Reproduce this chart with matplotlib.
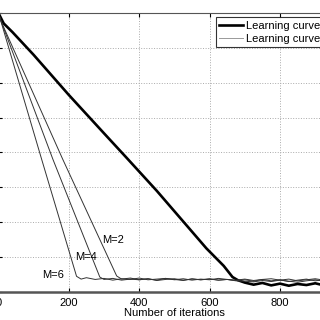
import numpy as np
import matplotlib
matplotlib.use("Agg")
import matplotlib.pyplot as plt

plt.rcParams['font.family'] = ['Liberation Sans', 'DejaVu Sans']

# thick curve (M=1), iterations / dB
it_m1 = [0, 15, 40, 100, 200, 300, 364, 450, 591, 640, 665, 680, 700, 725, 750, 775, 800, 825, 850, 875, 900, 925, 950, 975, 1000]
db_m1 = [0, -3.0, -5.5, -12, -23.5, -34.5, -41.5, -51, -67.5, -72.5, -75.7, -76.6, -77.3, -77.9, -77.4, -78.1, -77.6, -78.2, -77.7, -78.0, -77.5, -78.1, -77.8, -77.4, -77.9]

# thin curves, M = 2, 4, 6
it_m2 = [0, 8, 183, 336, 350, 375, 400, 425, 450, 475, 500, 525, 550, 575, 600, 625, 650, 675, 700, 725, 750, 775, 800, 825, 850, 875, 900, 925, 950, 975, 1000]
db_m2 = [0, -2.5, -42, -75.4, -76.3, -76.0, -76.5, -76.2, -76.6, -76.1, -76.4, -76.7, -76.2, -76.5, -76.3, -76.6, -76.4, -76.8, -76.9, -77.1, -76.7, -77.0, -76.6, -76.9, -77.2, -76.8, -76.5, -76.9, -77.1, -76.6, -76.9]
it_m4 = [0, 8, 155, 288, 300, 325, 350, 375, 400, 425, 450, 475, 500, 525, 550, 575, 600, 625, 650, 675, 700, 725, 750, 775, 800, 825, 850, 875, 900, 925, 950, 975, 1000]
db_m4 = [0, -2.5, -42, -75.7, -76.4, -76.1, -76.6, -76.3, -76.5, -76.2, -76.7, -76.4, -76.2, -76.6, -76.3, -76.5, -76.2, -76.6, -76.4, -76.7, -76.5, -76.9, -76.4, -76.8, -76.5, -77.0, -76.6, -76.3, -76.8, -76.5, -76.9, -76.4, -76.7]
it_m6 = [0, 6, 123, 222, 235, 250, 275, 300, 325, 350, 375, 400, 425, 450, 475, 500, 525, 550, 575, 600, 625, 650, 675, 700, 725, 750, 775, 800, 825, 850, 875, 900, 925, 950, 975, 1000]
db_m6 = [0, -2, -42, -75.5, -76.3, -75.9, -76.4, -76.1, -76.6, -76.2, -76.4, -76.0, -76.5, -76.3, -76.1, -76.5, -76.2, -76.6, -76.3, -76.5, -76.1, -76.4, -76.6, -76.3, -76.7, -76.4, -76.2, -76.6, -76.3, -76.8, -76.5, -76.2, -76.6, -76.4, -76.7, -76.5]

labels_m = ['M=2', 'M=4', 'M=6']
label_pos = [(325, -65), (248, -70), (155, -75)]

fig = plt.figure(figsize=(3.2, 3.2), dpi=100)
ax = fig.add_axes([-0.005, 0.0875, 1.10, 0.872])

ax.plot(it_m1, db_m1, color='black', lw=1.9, label='Learning curve (M=1)')
ax.plot(it_m2, db_m2, color='#333333', lw=0.7, label='Learning curves (M>1)')
ax.plot(it_m4, db_m4, color='#333333', lw=0.7)
ax.plot(it_m6, db_m6, color='#333333', lw=0.7)

for txt, (x, y) in zip(labels_m, label_pos):
    ax.text(x, y, txt, fontsize=8, ha='center', va='center')

ax.set_xlim(0, 1000)
ax.set_ylim(-80, 0)
ax.set_xticks(np.arange(0, 1001, 200))
ax.set_yticks(np.arange(-80, 1, 10))
ax.set_yticklabels([])
ax.tick_params(direction='in', top=True, right=True, labelsize=8, length=3, pad=4)
ax.grid(True, linestyle=':', color='#aaaaaa', lw=0.7)
for s in ax.spines.values():
    s.set_color('#555555')
ax.spines['bottom'].set_linewidth(1.8)
ax.set_xlabel('Number of iterations', fontsize=8, labelpad=0)

leg = ax.legend(loc='upper left', bbox_to_anchor=(0.617, 0.986), borderaxespad=0,
                fontsize=8, frameon=True, fancybox=False, handlelength=2.1,
                handletextpad=0.3, borderpad=0.35, labelspacing=0.25)
leg.get_frame().set_edgecolor('black')
leg.get_frame().set_linewidth(0.8)
leg.get_lines()[1].set_color('#999999')

fig.savefig('out.png', dpi=100)
